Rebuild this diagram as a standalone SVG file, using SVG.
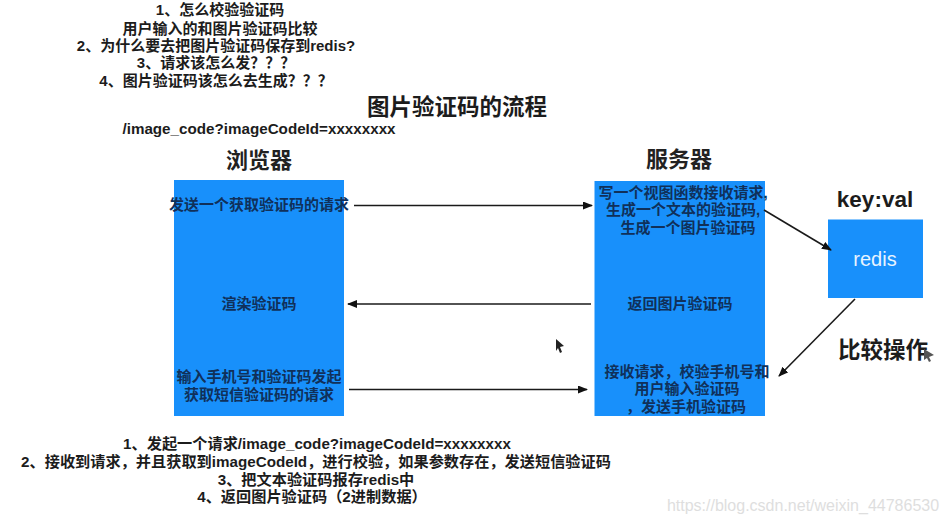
<svg xmlns="http://www.w3.org/2000/svg" width="945" height="526" viewBox="0 0 945 526">
<style>
text{font-family:"Liberation Sans","Noto Sans CJK SC",sans-serif;fill:#1c1c1c;text-anchor:middle;font-weight:700}
.n{font-size:15px}
.h{font-size:22px;fill:#222}
.b{font-size:15px;fill:#10305a}
.f{font-size:15.200px}
.box{fill:#1890fb}
.c{stroke:#1a1a1a;stroke-width:1.6;fill:none;marker-end:url(#a)}
</style>
<defs><marker id="a" markerUnits="userSpaceOnUse" markerWidth="10" markerHeight="8" refX="9" refY="4" orient="auto"><path d="M0 0L10 4L0 8Z" fill="#111"/></marker></defs>
<rect width="945" height="526" fill="#fff"/>
<g id="top-notes">
<text class="n" x="220" y="15">1、怎么校验验证码</text>
<text class="n" x="220" y="34">用户输入的和图片验证码比较</text>
<text class="n" x="216" y="51">2、为什么要去把图片验证码保存到redis?</text>
<text class="n" x="216" y="68">3、请求该怎么发？？？</text>
<text class="n" x="216" y="86">4、图片验证码该怎么去生成？？？</text>
</g>
<text id="title" x="457" y="115" style="font-size:22.500px">图片验证码的流程</text>
<text id="url" x="259" y="134" style="font-size:15.200px">/image_code?imageCodeId=xxxxxxxx</text>
<g id="browser">
<text class="h" x="259" y="168">浏览器</text>
<rect class="box" x="174" y="180" width="170" height="236"/>
<text class="b" x="259" y="210">发送一个获取验证码的请求</text>
<text class="b" x="259" y="309">渲染验证码</text>
<text class="b" x="259" y="382">输入手机号和验证码发起</text>
<text class="b" x="259" y="400">获取短信验证码的请求</text>
</g>
<g id="server">
<text class="h" x="679" y="167">服务器</text>
<rect class="box" x="594.500" y="181" width="170.500" height="235"/>
<text class="b" x="683" y="198">写一个视图函数接收请求,</text>
<text class="b" x="683" y="215">生成一个文本的验证码,</text>
<text class="b" x="688" y="233">生成一个图片验证码</text>
<text class="b" x="680" y="309">返回图片验证码</text>
<text class="b" x="687" y="377">接收请求，校验手机号和</text>
<text class="b" x="687" y="394">用户输入验证码</text>
<text class="b" x="686" y="412">，发送手机验证码</text>
</g>
<g id="redis">
<text x="875" y="207" style="font-size:22.500px">key:val</text>
<rect class="box" x="828" y="219.500" width="95" height="78.500"/>
<text x="875" y="266" style="font-size:20px;fill:#e8f4ff;font-weight:400">redis</text>
</g>
<g id="connectors">
<path class="c" d="M354 205.500H592"/>
<path class="c" d="M591 304H348"/>
<path class="c" d="M349 389.500H587"/>
<path class="c" d="M764 210L831 250"/>
<path class="c" d="M855 299L779 376"/>
</g>
<text id="compare" x="883" y="358" style="font-size:22.500px">比较操作</text>
<g id="bottom-notes">
<text class="f" x="317" y="449">1、发起一个请求/image_code?imageCodeId=xxxxxxxx</text>
<text class="f" x="316" y="467">2、接收到请求，并且获取到imageCodeId，进行校验，如果参数存在，发送短信验证码</text>
<text class="f" x="316" y="485">3、把文本验证码报存redis中</text>
<text class="f" x="312" y="502">4、返回图片验证码（2进制数据）</text>
</g>
<text id="watermark" x="803" y="511" style="font-size:16px;font-weight:400;fill:#dedede">https://blog.csdn.net/weixin_44786530</text>
<path d="M556 339L564 346L560 347L562 352L560 353L558 348L556 351Z" fill="#222"/>
<path d="M924 349L934 355L929 357L931 361L929 362L927 358L924 360Z" fill="#555"/>
</svg>
